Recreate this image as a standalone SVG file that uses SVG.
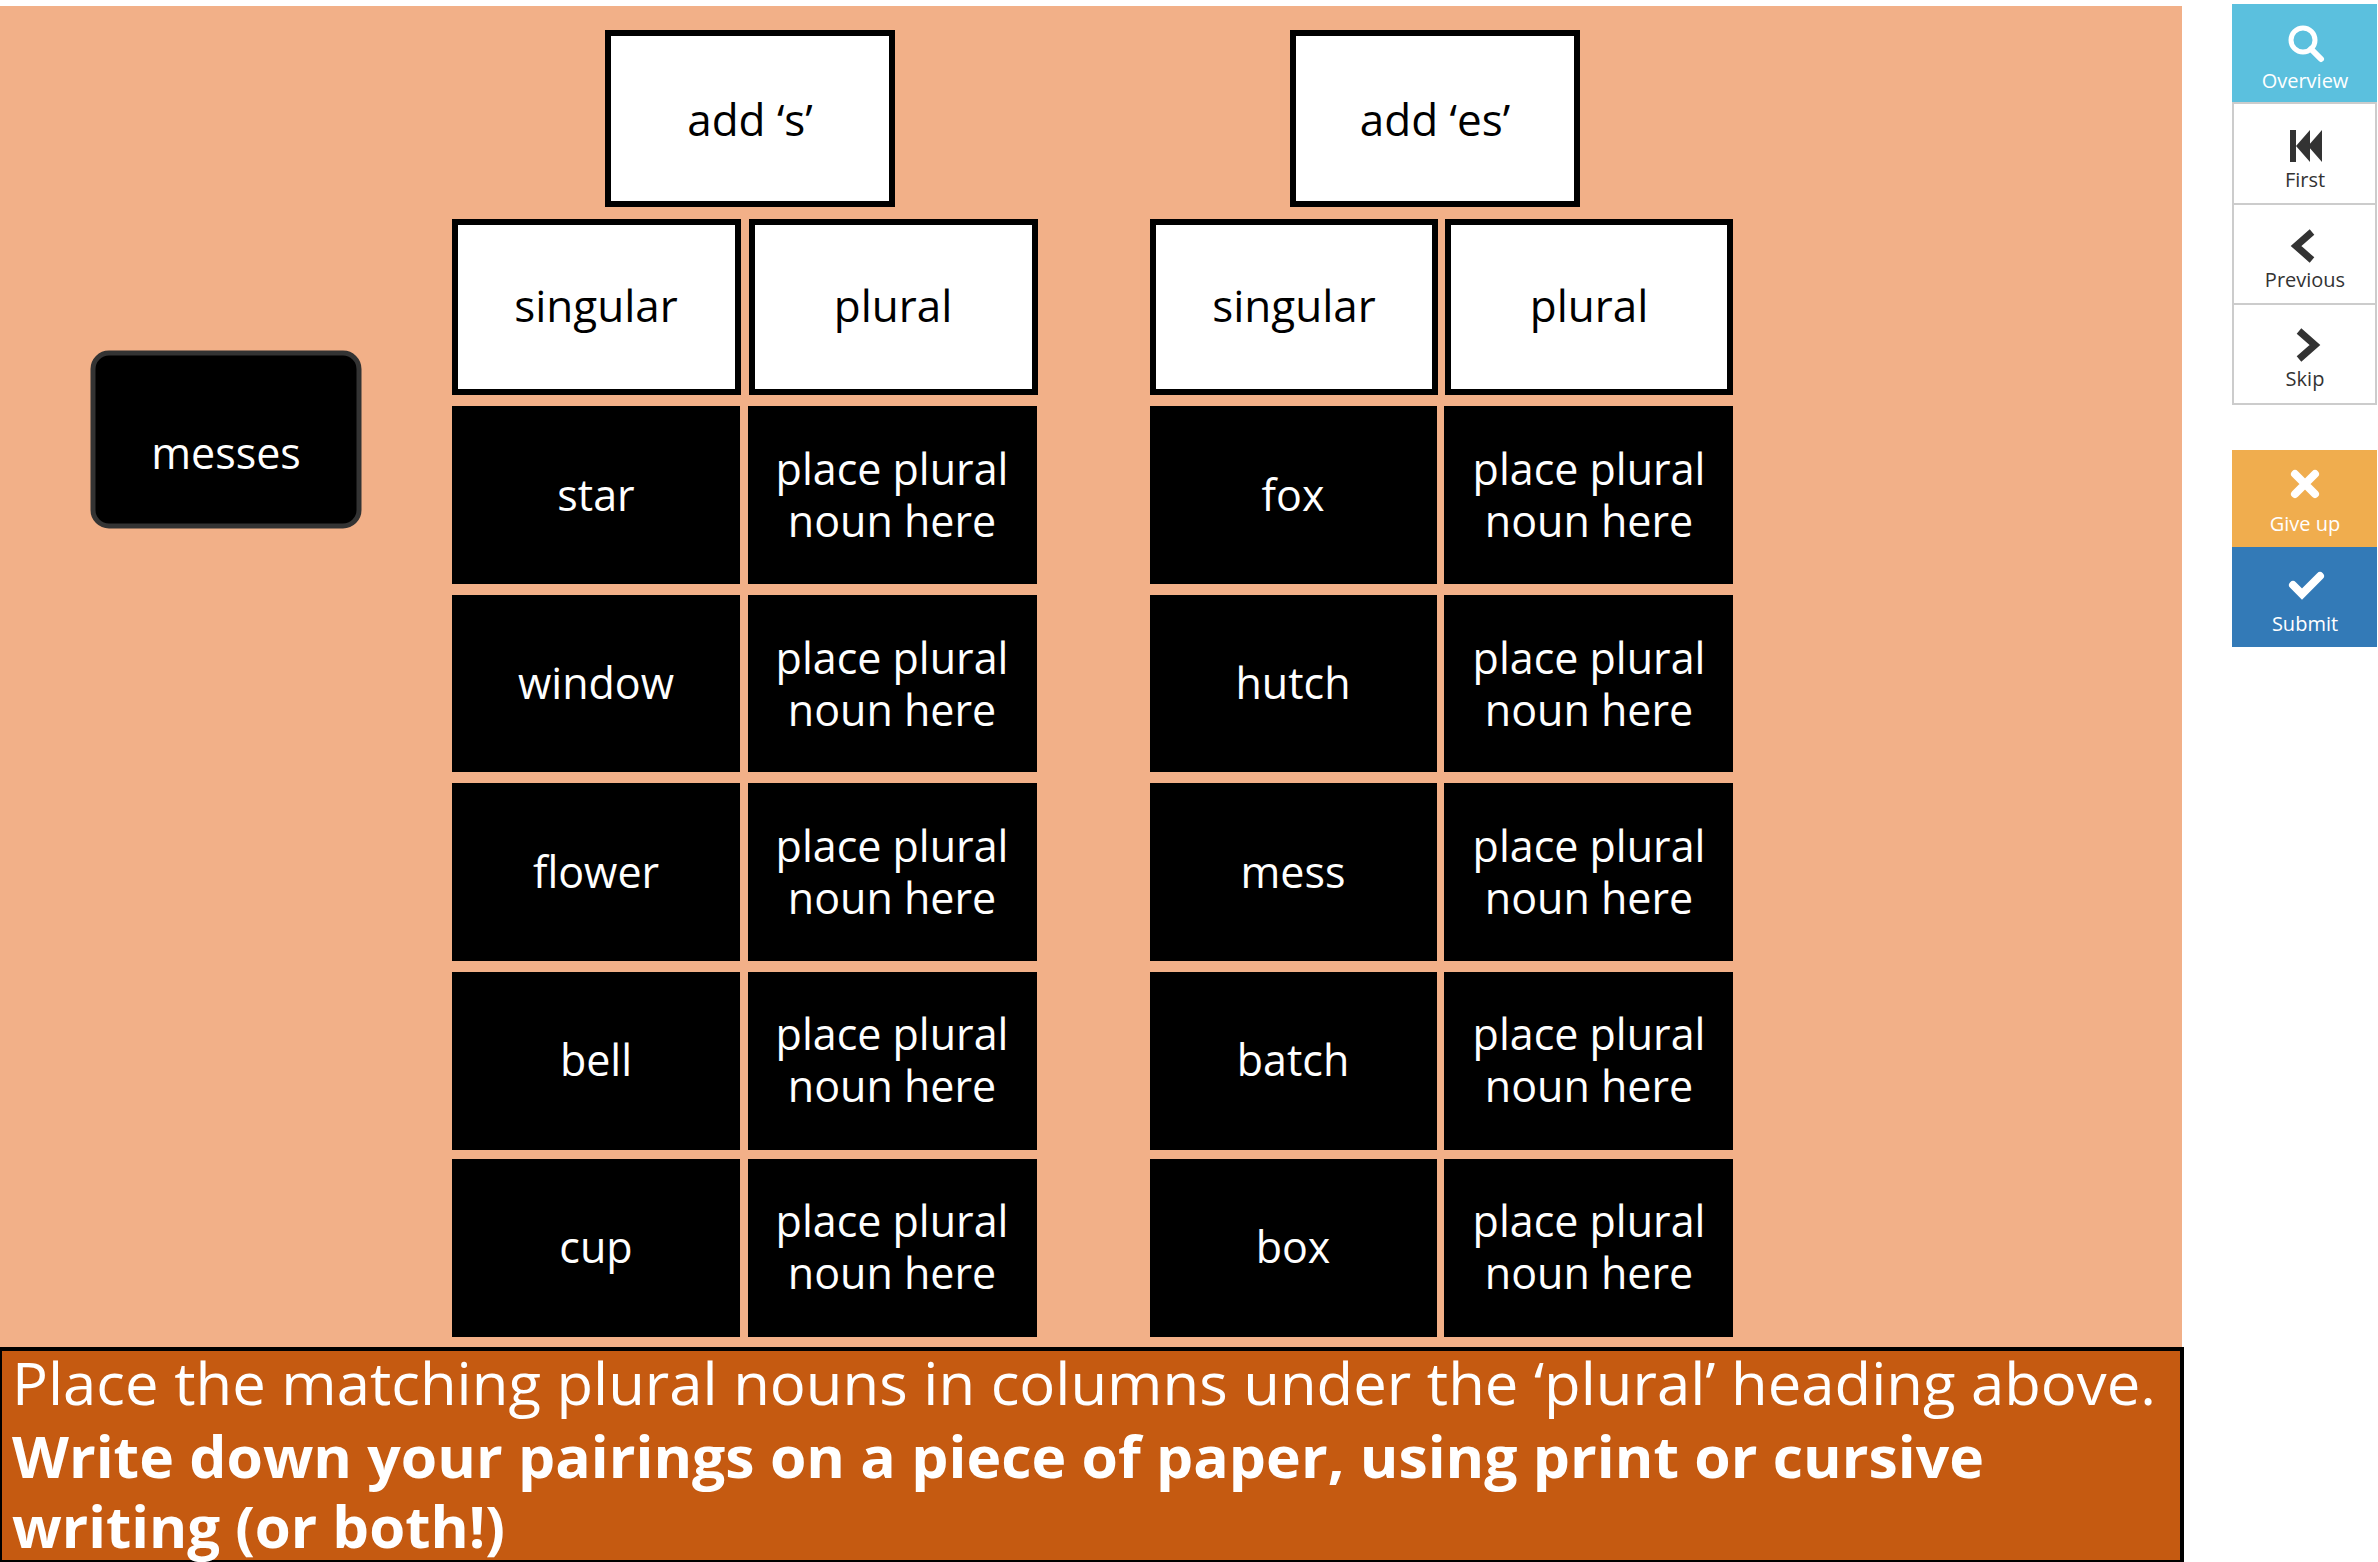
<svg xmlns="http://www.w3.org/2000/svg" width="2378" height="1562" viewBox="0 0 2378 1562">
<style>
.hdr{fill:#fff;stroke:#000;stroke-width:6}
.cell{fill:#000}
.ht{font-family:"Open Sans","Liberation Sans",sans-serif;font-size:44px;fill:#000;text-anchor:middle}
.ct{font-family:"Open Sans","Liberation Sans",sans-serif;font-size:43px;fill:#fff;text-anchor:middle}
.bt{font-family:"Open Sans","Liberation Sans",sans-serif;font-size:20px;text-anchor:middle}
.ban{font-family:"Open Sans","Liberation Sans",sans-serif;font-size:58px;fill:#fff}
</style>
<rect width="2378" height="1562" fill="#fff"/>
<rect x="0" y="6" width="2182" height="1343" fill="#F2B088"/>
<g id="add-s"><rect class="hdr" x="608" y="33" width="284" height="171"/><text class="ht" x="750" y="136">add ‘s’</text></g>
<g id="add-es"><rect class="hdr" x="1293" y="33" width="284" height="171"/><text class="ht" x="1435" y="136">add ‘es’</text></g>
<g id="sing1"><rect class="hdr" x="455" y="222" width="283" height="170"/><text class="ht" x="596" y="322">singular</text></g>
<g id="plur1"><rect class="hdr" x="752" y="222" width="283" height="170"/><text class="ht" x="893" y="322">plural</text></g>
<g id="sing2"><rect class="hdr" x="1153" y="222" width="282" height="170"/><text class="ht" x="1294" y="322">singular</text></g>
<g id="plur2"><rect class="hdr" x="1448" y="222" width="282" height="170"/><text class="ht" x="1589" y="322">plural</text></g>
<g id="messes"><rect x="93" y="353" width="266" height="173" rx="16" fill="#000" stroke="#333" stroke-width="5"/><text class="ct" x="226" y="469" font-size="48">messes</text></g>
<g id="rows">
<g id="r1"><rect class="cell" x="452" y="406" width="288" height="178"/><text class="ct" x="596" y="511">star</text><rect class="cell" x="748" y="406" width="289" height="178"/><text class="ct" x="892" y="485">place plural</text><text class="ct" x="892" y="537">noun here</text>
<rect class="cell" x="1150" y="406" width="287" height="178"/><text class="ct" x="1293" y="511">fox</text><rect class="cell" x="1444" y="406" width="289" height="178"/><text class="ct" x="1589" y="485">place plural</text><text class="ct" x="1589" y="537">noun here</text></g>
<g id="r2"><rect class="cell" x="452" y="595" width="288" height="177"/><text class="ct" x="596" y="699">window</text><rect class="cell" x="748" y="595" width="289" height="177"/><text class="ct" x="892" y="674">place plural</text><text class="ct" x="892" y="726">noun here</text>
<rect class="cell" x="1150" y="595" width="287" height="177"/><text class="ct" x="1293" y="699">hutch</text><rect class="cell" x="1444" y="595" width="289" height="177"/><text class="ct" x="1589" y="674">place plural</text><text class="ct" x="1589" y="726">noun here</text></g>
<g id="r3"><rect class="cell" x="452" y="783" width="288" height="178"/><text class="ct" x="596" y="888">flower</text><rect class="cell" x="748" y="783" width="289" height="178"/><text class="ct" x="892" y="862">place plural</text><text class="ct" x="892" y="914">noun here</text>
<rect class="cell" x="1150" y="783" width="287" height="178"/><text class="ct" x="1293" y="888">mess</text><rect class="cell" x="1444" y="783" width="289" height="178"/><text class="ct" x="1589" y="862">place plural</text><text class="ct" x="1589" y="914">noun here</text></g>
<g id="r4"><rect class="cell" x="452" y="972" width="288" height="178"/><text class="ct" x="596" y="1076">bell</text><rect class="cell" x="748" y="972" width="289" height="178"/><text class="ct" x="892" y="1050">place plural</text><text class="ct" x="892" y="1102">noun here</text>
<rect class="cell" x="1150" y="972" width="287" height="178"/><text class="ct" x="1293" y="1076">batch</text><rect class="cell" x="1444" y="972" width="289" height="178"/><text class="ct" x="1589" y="1050">place plural</text><text class="ct" x="1589" y="1102">noun here</text></g>
<g id="r5"><rect class="cell" x="452" y="1159" width="288" height="178"/><text class="ct" x="596" y="1263">cup</text><rect class="cell" x="748" y="1159" width="289" height="178"/><text class="ct" x="892" y="1237">place plural</text><text class="ct" x="892" y="1289">noun here</text>
<rect class="cell" x="1150" y="1159" width="287" height="178"/><text class="ct" x="1293" y="1263">box</text><rect class="cell" x="1444" y="1159" width="289" height="178"/><text class="ct" x="1589" y="1237">place plural</text><text class="ct" x="1589" y="1289">noun here</text></g>
</g>
<g id="banner">
<rect x="0" y="1349" width="2182" height="213" fill="#C55A11" stroke="#000" stroke-width="4"/>
<text class="ban" x="12" y="1405" textLength="2144" lengthAdjust="spacingAndGlyphs">Place the matching plural nouns in columns under the ‘plural’ heading above.</text>
<text class="ban" x="12" y="1478" font-weight="bold" textLength="1972" lengthAdjust="spacingAndGlyphs">Write down your pairings on a piece of paper, using print or cursive</text>
<text class="ban" x="12" y="1548" font-weight="bold" textLength="493" lengthAdjust="spacingAndGlyphs">writing (or both!)</text>
</g>
<g id="sidebar">
<g id="overview"><rect x="2232" y="4" width="145" height="99" fill="#5BC0DE"/><circle cx="2303" cy="40" r="12" fill="none" stroke="#fff" stroke-width="5"/><line x1="2311" y1="49" x2="2321" y2="59" stroke="#fff" stroke-width="6" stroke-linecap="round"/><text class="bt" x="2305" y="88" fill="#fff">Overview</text></g>
<g id="first"><rect x="2233" y="103" width="143" height="101" fill="#fff" stroke="#ccc" stroke-width="2"/><path d="M2290 130h6v32h-6zM2296 146l14-16v32zM2308 146l14-16v32z" fill="#333"/><text class="bt" x="2305" y="187" fill="#333">First</text></g>
<g id="previous"><rect x="2233" y="204" width="143" height="100" fill="#fff" stroke="#ccc" stroke-width="2"/><path d="M2312 232l-16 14 16 14" fill="none" stroke="#333" stroke-width="7"/><text class="bt" x="2305" y="287" fill="#333">Previous</text></g>
<g id="skip"><rect x="2233" y="304" width="143" height="100" fill="#fff" stroke="#ccc" stroke-width="2"/><path d="M2299 331l16 14-16 14" fill="none" stroke="#333" stroke-width="7"/><text class="bt" x="2305" y="386" fill="#333">Skip</text></g>
<g id="giveup"><rect x="2232" y="450" width="145" height="97" fill="#F0AD4E"/><path d="M2295 474l20 20M2315 474l-20 20" stroke="#fff" stroke-width="8" stroke-linecap="round"/><text class="bt" x="2305" y="531" fill="#fff">Give up</text></g>
<g id="submit"><rect x="2232" y="547" width="145" height="100" fill="#337AB7"/><path d="M2293 585l9 9 18-18" fill="none" stroke="#fff" stroke-width="8" stroke-linecap="round"/><text class="bt" x="2305" y="631" fill="#fff">Submit</text></g>
</g>
</svg>
